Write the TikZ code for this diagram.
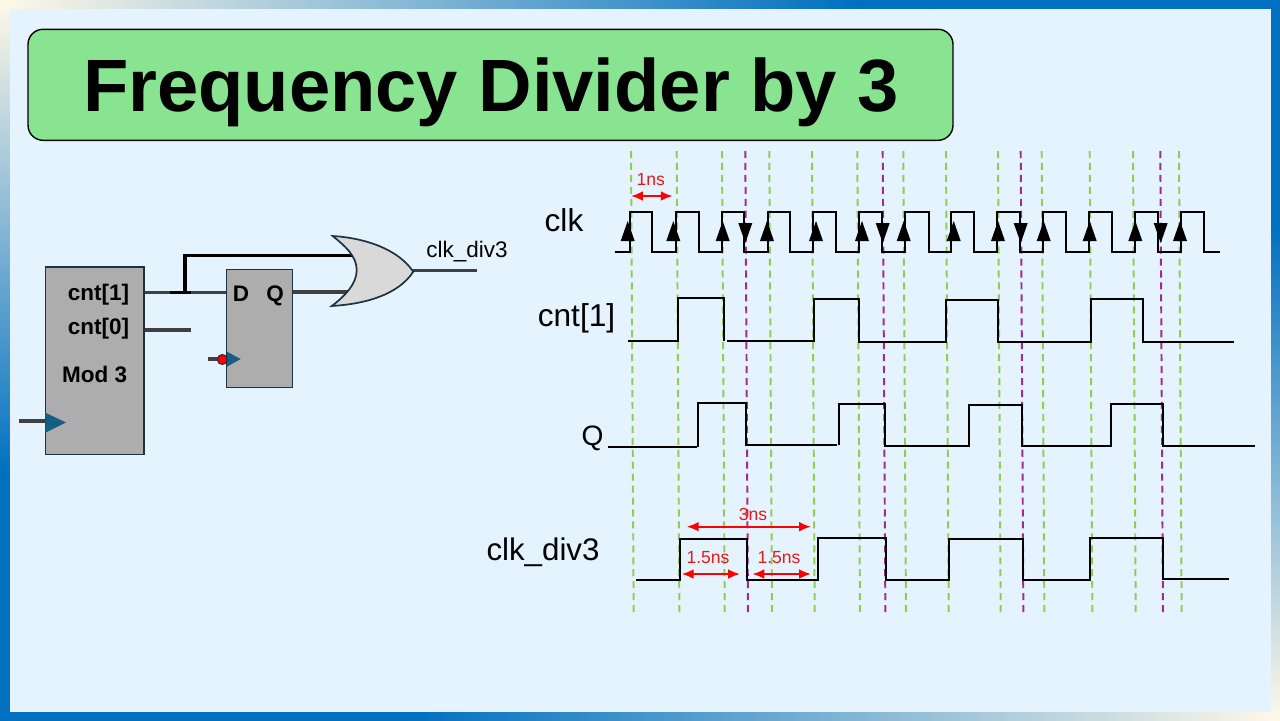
\documentclass[tikz,border=0pt]{standalone}
\usepackage{fontspec}
\setmainfont{Liberation Sans}
\usetikzlibrary{arrows.meta}
\definecolor{framecream}{HTML}{FFF8E8}
\definecolor{frameblue}{HTML}{0070C0}
\definecolor{panelblue}{HTML}{E5F3FF}
\definecolor{titlegreen}{HTML}{88E490}
\definecolor{guidegreen}{HTML}{92CC55}
\definecolor{guidepurple}{HTML}{A02B93}
\definecolor{boxgray}{HTML}{ADADAD}
\definecolor{boxline}{HTML}{1F3040}
\definecolor{wiregray}{HTML}{404040}
\definecolor{clktip}{HTML}{156082}
\definecolor{dimred}{HTML}{E81818}
\pgfdeclarehorizontalshading{fadetop}{100bp}{color(0bp)=(framecream); color(25bp)=(framecream); color(58.5bp)=(frameblue); color(100bp)=(frameblue)}
\pgfdeclarehorizontalshading{fadebottom}{100bp}{color(0bp)=(frameblue); color(41bp)=(frameblue); color(75bp)=(framecream); color(100bp)=(framecream)}
\pgfdeclareverticalshading{fadeleft}{100bp}{color(0bp)=(frameblue); color(42bp)=(frameblue); color(75bp)=(framecream); color(100bp)=(framecream)}
\pgfdeclareverticalshading{faderight}{100bp}{color(0bp)=(framecream); color(25bp)=(framecream); color(59.5bp)=(frameblue); color(100bp)=(frameblue)}
\tikzset{
  blockbox/.style={draw=boxline, fill=boxgray, line width=2.2pt},
  wavepath/.style={black, line width=2.8pt, line join=miter},
  guidegreenline/.style={guidegreen, line width=2.8pt, dash pattern=on 10pt off 7pt},
  guidepurpleline/.style={guidepurple, line width=2.8pt, dash pattern=on 10pt off 7pt},
  wirethick/.style={wiregray, line width=5pt},
  dimarrow/.style={red, line width=3pt, {Latex[length=17pt,width=14pt]}-{Latex[length=17pt,width=14pt]}},
  dimtext/.style={text=dimred, font=\fontsize{25}{30}\selectfont, anchor=base},
  wavelabel/.style={font=\fontsize{45}{52}\selectfont, anchor=base},
  boldlabel/.style={font=\bfseries\fontsize{32}{38}\selectfont, anchor=base},
}
\begin{document}
\begin{tikzpicture}[x=0.05cm, y=0.05cm]
        \tikzstyle{every node}+=[inner sep=0pt]
        \useasboundingbox (0,0) rectangle (1280,-720);
        % frame and panel
        \shade [shading=fadetop] (0,0) rectangle (1280,-10);
        \shade [shading=fadebottom] (0,-710) rectangle (1280,-720);
        \shade [shading=fadeleft] (0,0) rectangle (10,-720);
        \shade [shading=faderight] (1270,0) rectangle (1280,-720);
        \fill [panelblue] (9.5,-9) rectangle (1271,-711.5);
        % title
        \node (titlebox) [draw=black, fill=titlegreen, line width=2pt, rounded corners=0.75cm, minimum width=46.25cm, minimum height=5.55cm] at (490.5,-84.8) {};
        \node (titletext) [font=\bfseries\fontsize{105.5}{110}\selectfont, anchor=base] at (491,-111.7) {Frequency Divider by 3};
        % guide lines
        \foreach \x in {631,676.7,722,769.3,812,857.3,903.3,946,998,1041.7,1089.7,1133,1179}
          \draw [guidegreenline] (\x,-151) -- (\x+2.7,-616);
        \foreach \x in {745.3,882.7,1020.7,1160.3}
          \draw [guidepurpleline] (\x,-151) -- (\x+2.7,-616);
        % waveforms
        \draw [wavepath] (615,-252.3) -- (630,-252.3) -- (630,-212) -- (652.3,-212) -- (652.3,-252.3) -- (675.7,-252.3) -- (675.7,-212) -- (698.7,-212) -- (698.7,-252.3) -- (721.7,-252.3) -- (721.7,-212) -- (744.3,-212) -- (744.3,-252.3) -- (768,-252.3) -- (768,-212) -- (790,-212) -- (790,-252.3) -- (813.3,-252.3) -- (813.3,-212) -- (836,-212) -- (836,-252.3) -- (859,-252.3) -- (859,-212) -- (882.3,-212) -- (882.3,-252.3) -- (905,-252.3) -- (905,-212) -- (928.7,-212) -- (928.7,-252.3) -- (951.3,-252.3) -- (951.3,-212) -- (974.3,-212) -- (974.3,-252.3) -- (997.3,-252.3) -- (997.3,-212) -- (1020,-212) -- (1020,-252.3) -- (1043.3,-252.3) -- (1043.3,-212) -- (1066,-212) -- (1066,-252.3) -- (1089,-252.3) -- (1089,-212) -- (1111.7,-212) -- (1111.7,-252.3) -- (1135,-252.3) -- (1135,-212) -- (1158,-212) -- (1158,-252.3) -- (1180.7,-252.3) -- (1180.7,-212) -- (1203.7,-212) -- (1203.7,-252.3) -- (1219.7,-252.3);
        \foreach \x in {627.7,673.3,722.7,767,816,862,903.7,953.7,998,1043.7,1089.7,1135.3,1180}
          \fill [black] (\x-7,-241) -- (\x+7,-241) -- (\x,-221) -- cycle;
        \foreach \x in {745.3,882.7,1020.7,1160.7}
          \fill [black] (\x-7,-223) -- (\x+7,-223) -- (\x,-243) -- cycle;
        \draw [wavepath] (628.3,-340.7) -- (678,-340.7) -- (678,-298.3) -- (724,-298.3) -- (724,-340.7) (726.7,-340.7) -- (814,-340.7) -- (814,-299.3) -- (859.3,-299.3) -- (859.3,-341.7) -- (946,-341.7) -- (946,-300.3) -- (998.3,-300.3) -- (998.3,-341.7) -- (1090.7,-341.7) -- (1090.7,-299) -- (1143,-299) -- (1143,-341.7) -- (1233.7,-341.7);
        \draw [wavepath] (608.3,-446.7) -- (696.7,-446.7) (698.3,-446.7) -- (698.3,-403.3) -- (746,-403.3) -- (746,-445.3) -- (836.7,-445.3) (839,-445.3) -- (839,-404) -- (884.7,-404) -- (884.7,-446.3) -- (969.3,-446.3) -- (969.3,-405) -- (1021.7,-405) -- (1021.7,-446.3) -- (1110.7,-446.3) -- (1110.7,-404) -- (1162.7,-404) -- (1162.7,-446.3) -- (1254.7,-446.3);
        \draw [wavepath] (636,-580) -- (680,-580) -- (680,-539.3) -- (747.3,-539.3) -- (747.3,-580.3) -- (818,-580.3) -- (818,-537.7) -- (885.7,-537.7) -- (885.7,-580) -- (949.3,-580) -- (949.3,-539.3) -- (1023,-539.3) -- (1023,-579.7) -- (1090.3,-579.7) -- (1090.3,-538) -- (1162.7,-538) -- (1162.7,-579) -- (1229,-579);
        % wave labels
        \node (clklabel) [wavelabel] at (564,-231) {clk};
        \node (cntlabel) [wavelabel] at (576.5,-326) {cnt[1]};
        \node (qlabel) [wavelabel, font=\fontsize{40}{46}\selectfont] at (592.5,-445) {Q};
        \node (divlabel) [wavelabel, font=\fontsize{44.5}{52}\selectfont] at (543,-560) {clk\_div3};
        % timing marks
        \coordinate (onea) at (631,-196);
        \coordinate (oneb) at (672.7,-196);
        \draw [dimarrow] (onea) -- (oneb);
        \node (onelabel) [dimtext] at (650.7,-185.5) {1ns};
        \coordinate (threea) at (686.7,-526.7);
        \coordinate (threeb) at (811,-526.7);
        \draw [dimarrow] (threea) -- (threeb);
        \node (threelabel) [dimtext] at (753,-520) {3ns};
        \coordinate (halfa) at (681.7,-574);
        \coordinate (halfb) at (740,-574);
        \draw [dimarrow] (halfa) -- (halfb);
        \node (halflabel) [dimtext] at (708,-563.5) {1.5ns};
        \coordinate (halfc) at (752.3,-574);
        \coordinate (halfd) at (811,-574);
        \draw [dimarrow] (halfc) -- (halfd);
        \node (halftext) [dimtext] at (779,-563) {1.5ns};
        % circuit blocks
        \node (modbox) [blockbox, minimum width=4.935cm, minimum height=9.385cm] at (94.65,-360.85) {};
        \node (ffbox) [blockbox, minimum width=3.32cm, minimum height=5.88cm] at (259.5,-328.5) {};
        \node (cntone) [boldlabel] at (98.5,-300) {cnt[1]};
        \node (cntzero) [boldlabel] at (98.5,-334) {cnt[0]};
        \node (modtext) [boldlabel] at (94.7,-382.7) {Mod 3};
        \node (dtext) [boldlabel] at (241,-301) {D};
        \node (qtext) [boldlabel] at (275,-301) {Q};
        \node (divtext) [font=\fontsize{32}{38}\selectfont, anchor=base] at (467,-257.7) {clk\_div3};
        % or gate
        \coordinate (orone) at (351.7,-255.3);
        \coordinate (ortwo) at (350,-292);
        \coordinate (orout) at (413.3,-270.7);
        \coordinate (branch) at (185,-292.7);
        \coordinate (branchup) at (185,-255.3);
        \coordinate (branchleft) at (170,-292.7);
        \coordinate (branchright) at (191,-292.7);
        \coordinate (zeroend) at (190.7,-330);
        \coordinate (divend) at (476.7,-270.7);
        \coordinate (clkin) at (19.3,-421);
        \coordinate (ffclkin) at (208.3,-359);
        \draw [wirethick] (modbox.east |- branch) -- (ffbox.west |- branch);
        \draw [wirethick, line width=4.5pt] (modbox.east |- zeroend) -- (zeroend);
        \draw [black, line width=4.5pt] (branchleft) -- (branchright);
        \draw [black, line width=4.5pt] (branch) -- (branchup) -- (orone);
        \draw [wirethick] (ffbox.east |- ortwo) -- (ortwo);
        \draw [wirethick] (orout) -- (divend);
        \draw [wirethick] (clkin) -- (modbox.west |- clkin);
        \draw [wirethick] (ffclkin) -- (ffbox.west |- ffclkin);
        \draw [draw=boxline, fill=black!15, line width=2.4pt, line join=miter] (332.7,-236) .. controls (345,-246) and (356.7,-256) .. (356.7,-270) .. controls (356.7,-284) and (345,-296) .. (331.7,-306) .. controls (365,-304) and (398,-295) .. (413.3,-271.7) .. controls (398,-249) and (365,-238) .. (332.7,-236) -- cycle;
        % clock marks
        \fill [clktip] (45.3,-412.7) -- (66,-422.5) -- (45.3,-432.7) -- cycle;
        \fill [clktip] (227,-351.7) -- (240.7,-359) -- (227,-366.7) -- cycle;
        \node (ffbubble) [circle, draw=boxline, fill=red, line width=1.5pt, minimum size=0.5cm] at (222.3,-359.5) {};
\end{tikzpicture}
\end{document}
